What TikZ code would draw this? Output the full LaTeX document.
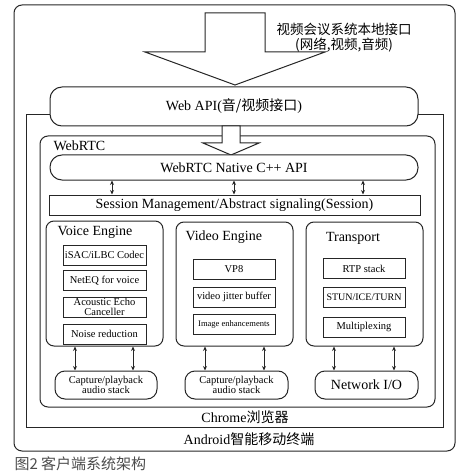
\documentclass[tikz,border=0pt]{standalone}
\usepackage{fontspec}
\setmainfont{Liberation Serif}
\newfontfamily\cjk{Noto Sans CJK SC}
\usetikzlibrary{arrows.meta}

\begin{document}
\begin{tikzpicture}[x=1pt, y=-1pt, line width=1pt, draw=black!85,
    layer/.style={draw, rounded corners=8pt, inner sep=0pt},
    pill/.style={draw, fill=white, rounded corners=12pt, inner sep=0pt},
    box/.style={draw, fill=white, inner sep=0pt, minimum width=82pt, minimum height=20pt,
      align=center, font=\fontsize{10.5}{9.5}\selectfont},
    big/.style={font=\fontsize{14}{15}\selectfont, inner sep=0pt},
    dbl/.style={{Stealth[length=4.5pt,width=4pt]}-{Stealth[length=4.5pt,width=4pt]}, line width=0.8pt}]
    \useasboundingbox (0,0) rectangle (466,473);
    % outer layers
    \node[layer, minimum width=441pt, minimum height=446pt] (android) at (234.5,228) {};
    \node[big] (androidlbl) at (249,439) {Android{\cjk 智能移动终端}};
    \node[draw, inner sep=0pt, minimum width=417pt, minimum height=312pt] (chrome) at (234.5,271) {};
    \node[big] (chromelbl) at (245,417) {Chrome{\cjk 浏览器}};
    % local interface arrow
    \draw[fill=white] (205,13) -- (265,13) -- (265,52) -- (325,52) -- (235,85)
      -- (145,52) -- (205,52) -- cycle;
    \node[big, font=\fontsize{13.5}{15}\selectfont\cjk] (local) at (344,29) {视频会议系统本地接口};
    \node[big, font=\fontsize{13.5}{15}\selectfont\cjk] (localsub) at (344,45) {(网络,视频,音频)};
    \node[pill, big, minimum width=368pt, minimum height=39pt] (webapi) at (234,106.5)
      {Web API({\cjk 音/视频接口})};
    % WebRTC
    \node[layer, minimum width=395pt, minimum height=271pt] (webrtc) at (237.5,271.5) {};
    \node[big, anchor=west] (webrtclbl) at (53,146) {WebRTC};
    \draw[fill=white] (222,126) -- (240,126) -- (240,143) -- (259,143) -- (231,155)
      -- (203,143) -- (222,143) -- cycle;
    \node[pill, big, minimum width=368pt, minimum height=25pt] (native) at (234,167.5)
      {WebRTC Native C++ API};
    \node[draw, big, minimum width=371pt, minimum height=20pt] (session) at (234.5,205)
      {Session Management/Abstract signaling(Session)};
    \foreach \x in {112,234,363}
      \draw[dbl] (native.south -| \x,0) -- (session.north -| \x,0);
    % engines
    \node[layer, minimum width=117pt, minimum height=125pt] (voice) at (104.5,283.5) {};
    \node[layer, minimum width=117pt, minimum height=124pt] (video) at (234.5,284) {};
    \node[layer, minimum width=117pt, minimum height=124pt] (transport) at (364.5,284) {};
    \node[big, anchor=west] (voicelbl) at (57,232) {Voice Engine};
    \node[big, anchor=west] (videolbl) at (185,237) {Video Engine};
    \node[big] (transportlbl) at (353,238) {Transport};
    \node[box, minimum width=83pt] (codec) at (104.5,255) {iSAC/iLBC Codec};
    \node[box, minimum width=83pt] (neteq) at (104.5,280.5) {NetEQ for voice};
    \node[box, minimum width=83pt] (aec) at (104.5,307) {Acoustic Echo\\Canceller};
    \node[box, minimum width=83pt] (noise) at (104.5,334) {Noise reduction};
    \node[box] (vp8) at (234,269.5) {VP8};
    \node[box] (jitter) at (234,297) {video jitter buffer};
    \node[box, font=\fontsize{8.5}{9}\selectfont] (enhance) at (234,324.5) {Image enhancements};
    \node[box] (rtp) at (364,268.5) {RTP stack};
    \node[box, font=\fontsize{10}{10}\selectfont] (stun) at (364,297.5) {STUN/ICE/TURN};
    \node[box] (mux) at (364,327) {Multiplexing};
    % devices
    \node[pill, rounded corners=10pt, minimum width=102pt, minimum height=28pt, align=center,
      font=\fontsize{10.5}{9.5}\selectfont] (capvoice) at (106,385) {Capture/playback\\audio stack};
    \node[pill, rounded corners=10pt, minimum width=103pt, minimum height=28pt, align=center,
      font=\fontsize{10.5}{9.5}\selectfont] (capvideo) at (236.5,385) {Capture/playback\\audio stack};
    \node[pill, big, rounded corners=10pt, minimum width=103pt, minimum height=28pt] (netio) at (366.5,385)
      {Network I/O};
    \foreach \x/\e/\d in {75/voice/capvoice, 133/voice/capvoice, 205/video/capvideo,
        264/video/capvideo, 334/transport/netio, 394/transport/netio}
      \draw[dbl] (\e.south -| \x,0) -- (\d.north -| \x,0);
    % caption
    \node[anchor=west, inner sep=0pt, text=black!70, font=\fontsize{15}{17}\selectfont\cjk]
      (caption) at (14,464) {图2 客户端系统架构};
\end{tikzpicture}
\end{document}
